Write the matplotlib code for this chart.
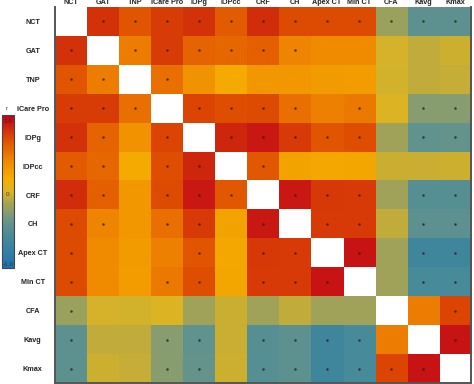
import matplotlib
matplotlib.use("Agg")
import matplotlib.pyplot as plt
from matplotlib import colors
import numpy as np

labels = ["NCT", "GAT", "TNP", "iCare Pro", "IOPg", "IOPcc", "CRF", "CH",
          "Apex CT", "Min CT", "CFA", "Kavg", "Kmax"]

# upper triangle of correlation matrix (r), row by row
r_nct   = [0.80, 0.65, 0.75, 0.80, 0.62, 0.82, 0.70, 0.70, 0.70, -0.20, -0.46, -0.46]
r_gat   = [0.45, 0.75, 0.58, 0.57, 0.60, 0.42, 0.38, 0.38, -0.02, -0.08, -0.04]
r_tnp   = [0.52, 0.33, 0.18, 0.30, 0.30, 0.28, 0.27, -0.03, -0.08, -0.07]
r_icare = [0.72, 0.68, 0.70, 0.52, 0.43, 0.47, 0.00, -0.27, -0.27]
r_iopg  = [0.85, 0.90, 0.76, 0.65, 0.68, -0.18, -0.43, -0.41]
r_iopcc = [0.64, 0.22, 0.20, 0.21, -0.05, -0.05, -0.04]
r_crf   = [0.90, 0.77, 0.76, -0.18, -0.50, -0.50]
r_ch    = [0.76, 0.76, -0.08, -0.45, -0.45]
r_apex  = [0.92, -0.18, -0.65, -0.65]
r_min   = [-0.18, -0.58, -0.58]
r_cfa   = [0.45, 0.72]
r_kavg  = [0.92]

# significance marks (1 = dot drawn), full rows
sig = ["0111111111111",
       "1011111100000",
       "1101000000000",
       "1110111101011",
       "1101011111011",
       "1101101000000",
       "1101110111011",
       "1101101011011",
       "1000101101011",
       "1001101110011",
       "1000000000001",
       "1001101111001",
       "1001101111110"]

upper = [r_nct, r_gat, r_tnp, r_icare, r_iopg, r_iopcc, r_crf, r_ch,
         r_apex, r_min, r_cfa, r_kavg]
n = len(labels)
R = np.full((n, n), np.nan)
for i, row in enumerate(upper):
    for k, v in enumerate(row):
        j = i + 1 + k
        R[i, j] = v
        R[j, i] = v

cmap = colors.LinearSegmentedColormap.from_list("rcorr", [
    (0.00, "#1b74b2"),
    (0.22, "#4a8c98"),
    (0.32, "#6e9688"),
    (0.42, "#a6a452"),
    (0.50, "#dcb424"),
    (0.58, "#f5ae00"),
    (0.70, "#f08800"),
    (0.84, "#e05000"),
    (1.00, "#c0001a"),
])
cmap.set_bad("white")

plt.rcParams['font.family'] = ['Liberation Sans Narrow', 'Liberation Sans', 'DejaVu Sans']

fig = plt.figure(figsize=(4.74, 3.84), dpi=100)
ax = fig.add_axes([55 / 474, 1 / 384, 416 / 474, 376 / 384])
im = ax.imshow(np.ma.masked_invalid(R), cmap=cmap, vmin=-1, vmax=1,
               aspect='auto', interpolation='nearest')

for i in range(n):
    for j in range(n):
        if sig[i][j] == "1":
            ax.plot(j, i, marker='o', ms=1.8, mew=0, color='#2a2018', alpha=0.8)

ax.set_xticks(range(n))
ax.set_yticks(range(n))
ax.set_xticklabels(labels, fontsize=5.2, fontweight='bold', color='#222222')
ax.set_yticklabels(labels, fontsize=5.2, fontweight='bold', color='#222222')
ax.xaxis.tick_top()
ax.tick_params(axis='x', length=0, pad=1)
ax.tick_params(axis='y', length=0, pad=16)
for t in ax.get_yticklabels():
    t.set_horizontalalignment('center')
ax.set_xlim(-0.5, n - 0.5)
ax.set_ylim(n - 0.5, -0.5)
for s in ['left', 'bottom', 'right']:
    ax.spines[s].set_color('#555555')
    ax.spines[s].set_linewidth(1.4)
ax.spines['top'].set_visible(False)

cax = fig.add_axes([2 / 474, (384 - 268) / 384, 12 / 474, 153 / 384])
cb = fig.colorbar(im, cax=cax)
cb.set_ticks([])
cb.outline.set_edgecolor('#444444')
cb.outline.set_linewidth(0.8)
for val, txt in [(0.91, "1.0"), (-0.045, "0"), (-0.955, "-1.0")]:
    cax.text(0.5, val, txt, ha='center', va='center', fontsize=4.6,
             color='#2a1a10', alpha=0.75, transform=cax.get_yaxis_transform())
fig.text(7 / 474, 1 - 108 / 384, "r", ha='center', va='center', fontsize=4.5,
         color='#333333')

fig.savefig("out.png", dpi=100)
